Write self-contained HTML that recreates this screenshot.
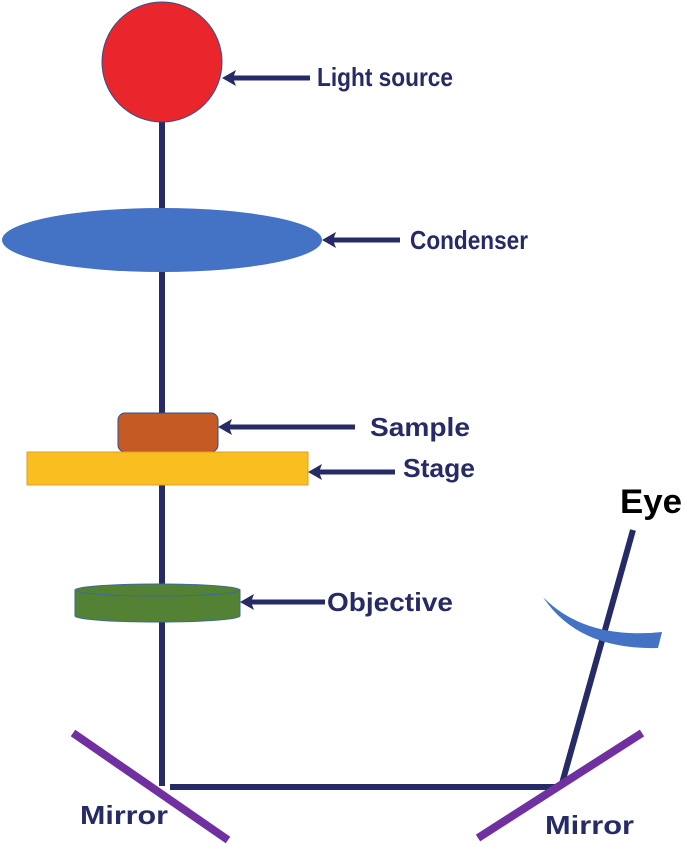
<!DOCTYPE html>
<html><head><style>
html,body{margin:0;padding:0;background:#fff;width:685px;height:847px;overflow:hidden}
svg text{font-family:"Liberation Sans",sans-serif;font-weight:bold;fill:#262b66;font-size:26px}
</style></head><body>
<svg width="685" height="847" viewBox="0 0 685 847" xmlns="http://www.w3.org/2000/svg">
<g stroke="#262b66" stroke-width="6" fill="none">
<line x1="162" y1="120" x2="162" y2="786"/>
<line x1="170" y1="787" x2="560" y2="787"/>
<line x1="561" y1="787" x2="633" y2="530"/>
</g>
<circle cx="162" cy="62" r="60" fill="#e8262b" stroke="#2f4f8f" stroke-width="1"/>
<ellipse cx="162" cy="240" rx="160" ry="32" fill="#4472c4"/>
<rect x="118" y="413" width="100" height="39" rx="7" fill="#c55a25" stroke="#2f4f8f" stroke-width="1"/>
<rect x="27" y="452" width="281" height="33" fill="#f9be20" stroke="#e0a020" stroke-width="1"/>
<path d="M75,590 L75,616 A82.5,6 0 0 0 240,616 L240,590 Z" fill="#548235" stroke="#3a6b9a" stroke-width="1"/>
<ellipse cx="157.5" cy="590" rx="82.5" ry="6" fill="#548235" stroke="#3a6b9a" stroke-width="1"/>
<path d="M543,597 Q585,640 662,632 L658,648 Q578,650 543,597 Z" fill="#4472c4"/>
<g stroke="#262b66" stroke-width="5" fill="none">
<line x1="310" y1="78" x2="232" y2="78"/>
<line x1="400" y1="240" x2="332" y2="240"/>
<line x1="355" y1="427" x2="228" y2="427"/>
<line x1="395" y1="472" x2="318" y2="472"/>
<line x1="325" y1="602" x2="250" y2="602"/>
</g>
<g fill="#262b66">
<path d="M222,78 L236,70 L233,78 L236,86 Z"/>
<path d="M322,240 L336,232 L333,240 L336,248 Z"/>
<path d="M218,427 L232,419 L229,427 L232,435 Z"/>
<path d="M308,472 L322,464 L319,472 L322,480 Z"/>
<path d="M240,602 L254,594 L251,602 L254,610 Z"/>
</g>
<g stroke="#7030a0" stroke-width="8">
<line x1="73" y1="733" x2="228" y2="840"/>
<line x1="478" y1="838" x2="642" y2="733"/>
</g>
<text x="317" y="86" textLength="136" lengthAdjust="spacingAndGlyphs">Light source</text>
<text x="410" y="249" textLength="118" lengthAdjust="spacingAndGlyphs">Condenser</text>
<text x="370" y="436" textLength="100" lengthAdjust="spacingAndGlyphs">Sample</text>
<text x="403" y="477" textLength="72" lengthAdjust="spacingAndGlyphs">Stage</text>
<text x="327" y="611" textLength="126" lengthAdjust="spacingAndGlyphs">Objective</text>
<text x="80" y="824" textLength="88" lengthAdjust="spacingAndGlyphs">Mirror</text>
<text x="545" y="834" textLength="89" lengthAdjust="spacingAndGlyphs">Mirror</text>
<text x="620" y="513" textLength="62" lengthAdjust="spacingAndGlyphs" style="fill:#000;font-size:34px">Eye</text>
</svg>
</body></html>
